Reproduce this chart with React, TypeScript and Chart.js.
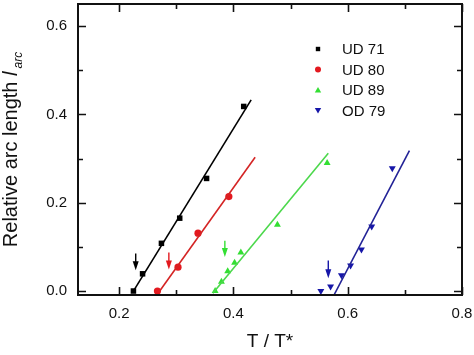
import React, { useEffect, useRef } from "react";
import { Chart, registerables } from "chart.js";

Chart.register(...registerables);

// ---- data ----
const seriesNames = ["UD 71", "UD 80", "UD 89", "OD 79"];

const ud71X = [0.225, 0.241, 0.274, 0.306, 0.353, 0.418];
const ud71Y = [0.0, 0.039, 0.108, 0.165, 0.255, 0.418];

const ud80X = [0.267, 0.303, 0.338, 0.392];
const ud80Y = [0.0, 0.054, 0.131, 0.214];

const ud89X = [0.368, 0.379, 0.39, 0.402, 0.413, 0.477, 0.564];
const ud89Y = [0.0, 0.021, 0.045, 0.064, 0.087, 0.15, 0.29];

const od79X = [0.553, 0.57, 0.589, 0.605, 0.624, 0.642, 0.678];
const od79Y = [0.0, 0.01, 0.036, 0.058, 0.094, 0.146, 0.278];

// linear fits (start / end)
const fit71X = [0.226, 0.431];
const fit71Y = [0.002, 0.433];
const fit80X = [0.271, 0.438];
const fit80Y = [0.0, 0.303];
const fit89X = [0.364, 0.566];
const fit89Y = [-0.005, 0.312];
const fit79X = [0.576, 0.708];
const fit79Y = [-0.009, 0.318];

// onset arrows
const arrowX = [0.229, 0.287, 0.385, 0.566];
const arrowTop = [0.085, 0.087, 0.114, 0.069];
const arrowTip = [0.047, 0.049, 0.077, 0.029];

const xTicks = [0.2, 0.4, 0.6, 0.8];
const xMinorTicks = [0.3, 0.5, 0.7];
const yTicks = [0.0, 0.2, 0.4, 0.6];
const yMinorTicks = [0.1, 0.3, 0.5];

const xMin = 0.128;
const xMax = 0.8;
const yMin = -0.009;
const yMax = 0.65;

const markerColors = ["#000000", "#e3191f", "#33df33", "#1616a8"];
const lineColors = ["#000000", "#d42424", "#4cd84c", "#222296"];
const pointStyles = ["rect", "circle", "triangle", "triangle"];
const pointRotations = [0, 0, 0, 180];
const pointRadii = [3.9, 3.6, 4, 4];

const FONT = "'Liberation Sans', Arial, Helvetica, sans-serif";

const zip = (xs: number[], ys: number[]) => xs.map((x, i) => ({ x, y: ys[i] }));

const pointSets = [zip(ud71X, ud71Y), zip(ud80X, ud80Y), zip(ud89X, ud89Y), zip(od79X, od79Y)];
const fitSets = [zip(fit71X, fit71Y), zip(fit80X, fit80Y), zip(fit89X, fit89Y), zip(fit79X, fit79Y)];

const framePlugin = {
  id: "frameTicks",
  afterDraw(chart: any) {
    const { ctx, chartArea, scales } = chart;
    const xs = scales.x;
    const ys = scales.y;
    const { left, right, top, bottom } = chartArea;
    ctx.save();
    ctx.strokeStyle = "#111";
    ctx.lineWidth = 1.6;
    const majorLen = 8;
    const minorLen = 5;
    ctx.beginPath();
    const xt = (v: number, len: number) => {
      const p = Math.round(xs.getPixelForValue(v)) + 0.5;
      ctx.moveTo(p, bottom);
      ctx.lineTo(p, bottom - len);
      ctx.moveTo(p, top);
      ctx.lineTo(p, top + len);
    };
    const yt = (v: number, len: number) => {
      const p = Math.round(ys.getPixelForValue(v)) + 0.5;
      ctx.moveTo(left, p);
      ctx.lineTo(left + len, p);
      ctx.moveTo(right, p);
      ctx.lineTo(right - len, p);
    };
    xTicks.forEach((v) => xt(v, majorLen));
    xMinorTicks.forEach((v) => xt(v, minorLen));
    yTicks.forEach((v) => yt(v, majorLen));
    yMinorTicks.forEach((v) => yt(v, minorLen));
    ctx.stroke();
    ctx.lineWidth = 2;
    ctx.strokeRect(left, top, right - left, bottom - top);

    // arrows
    arrowX.forEach((ax, i) => {
      const px = xs.getPixelForValue(ax);
      const pt = ys.getPixelForValue(arrowTop[i]);
      const pb = ys.getPixelForValue(arrowTip[i]);
      ctx.strokeStyle = markerColors[i];
      ctx.fillStyle = markerColors[i];
      ctx.lineWidth = 1.4;
      ctx.beginPath();
      ctx.moveTo(px, pt);
      ctx.lineTo(px, pb - 6);
      ctx.stroke();
      ctx.beginPath();
      ctx.moveTo(px - 3, pb - 9);
      ctx.lineTo(px + 3, pb - 9);
      ctx.lineTo(px, pb);
      ctx.closePath();
      ctx.fill();
    });

    // y title
    ctx.fillStyle = "#111";
    ctx.save();
    const cy = (top + bottom) / 2;
    ctx.translate(17, cy);
    ctx.rotate(-Math.PI / 2);
    ctx.textBaseline = "alphabetic";
    const main = "Relative arc length ";
    ctx.font = `20px ${FONT}`;
    const w1 = ctx.measureText(main).width;
    ctx.font = `italic 20px ${FONT}`;
    const w2 = ctx.measureText("l").width + 3;
    ctx.font = `italic 12px ${FONT}`;
    const w3 = ctx.measureText("arc").width;
    let sx = -(w1 + w2 + w3) / 2;
    ctx.textAlign = "left";
    ctx.font = `20px ${FONT}`;
    ctx.fillText(main, sx, 0);
    sx += w1;
    ctx.font = `italic 20px ${FONT}`;
    ctx.fillText("l", sx, 0);
    sx += w2;
    ctx.font = `italic 12px ${FONT}`;
    ctx.fillText("arc", sx, 5);
    ctx.restore();

    // legend
    const lx = 318;
    const ly0 = 49;
    const dy = 20.5;
    seriesNames.forEach((name, i) => {
      const y = ly0 + dy * i;
      ctx.fillStyle = markerColors[i];
      ctx.beginPath();
      if (i === 0) {
        ctx.fillRect(lx - 2.2, y - 2.2, 4.4, 4.4);
      } else if (i === 1) {
        ctx.arc(lx, y, 3, 0, Math.PI * 2);
        ctx.fill();
      } else if (i === 2) {
        ctx.moveTo(lx, y - 3);
        ctx.lineTo(lx + 3.2, y + 2.5);
        ctx.lineTo(lx - 3.2, y + 2.5);
        ctx.closePath();
        ctx.fill();
      } else {
        ctx.moveTo(lx, y + 3);
        ctx.lineTo(lx + 3.2, y - 2.5);
        ctx.lineTo(lx - 3.2, y - 2.5);
        ctx.closePath();
        ctx.fill();
      }
      ctx.fillStyle = "#111";
      ctx.font = `15px ${FONT}`;
      ctx.textAlign = "left";
      ctx.textBaseline = "middle";
      ctx.fillText(name, 342, y + 1);
    });
    ctx.restore();
  },
};

export default function App() {
  const ref = useRef<HTMLCanvasElement | null>(null);
  useEffect(() => {
    document.body.style.margin = "0";
    const canvas = ref.current;
    if (!canvas) return;
    const datasets: any[] = [];
    fitSets.forEach((d, i) => {
      datasets.push({
        type: "line",
        data: d,
        borderColor: lineColors[i],
        borderWidth: 1.6,
        pointRadius: 0,
        showLine: true,
        fill: false,
      });
    });
    pointSets.forEach((d, i) => {
      datasets.push({
        type: "scatter",
        label: seriesNames[i],
        data: d,
        backgroundColor: markerColors[i],
        borderColor: markerColors[i],
        borderWidth: 0,
        pointStyle: pointStyles[i],
        rotation: pointRotations[i],
        pointRadius: pointRadii[i],
      });
    });
    const chart = new Chart(canvas, {
      type: "scatter",
      data: { datasets },
      options: {
        responsive: false,
        animation: false,
        devicePixelRatio: 1,
        layout: { padding: { top: 1, right: 12, left: 0, bottom: 0 } },
        plugins: { legend: { display: false }, tooltip: { enabled: false } },
        scales: {
          x: {
            type: "linear",
            min: xMin,
            max: xMax,
            grid: { display: false, drawTicks: false },
            border: { display: false },
            afterBuildTicks: (s: any) => {
              s.ticks = xTicks.map((v) => ({ value: v }));
            },
            afterFit: (s: any) => {
              s.height = 60;
              s.paddingLeft = 0;
              s.paddingRight = 0;
            },
            ticks: {
              padding: 10,
              color: "#111",
              font: { family: FONT, size: 15 },
              maxRotation: 0,
              callback: (v: any) => Number(v).toFixed(1),
            },
            title: {
              display: true,
              text: "T / T*",
              color: "#111",
              font: { family: FONT, size: 19 },
              padding: { top: 0, bottom: 2 },
            },
          },
          y: {
            type: "linear",
            min: yMin,
            max: yMax,
            grid: { display: false, drawTicks: false },
            border: { display: false },
            afterBuildTicks: (s: any) => {
              s.ticks = yTicks.map((v) => ({ value: v }));
            },
            afterFit: (s: any) => {
              s.width = 78;
              s.paddingTop = 0;
              s.paddingBottom = 0;
            },
            ticks: {
              padding: 11,
              color: "#111",
              font: { family: FONT, size: 15 },
              callback: (v: any) => Number(v).toFixed(1),
            },
          },
        },
      },
      plugins: [framePlugin],
    });
    return () => chart.destroy();
  }, []);
  return (
    <div style={{ width: 474, height: 355 }}>
      <canvas ref={ref} width={474} height={355} />
    </div>
  );
}
